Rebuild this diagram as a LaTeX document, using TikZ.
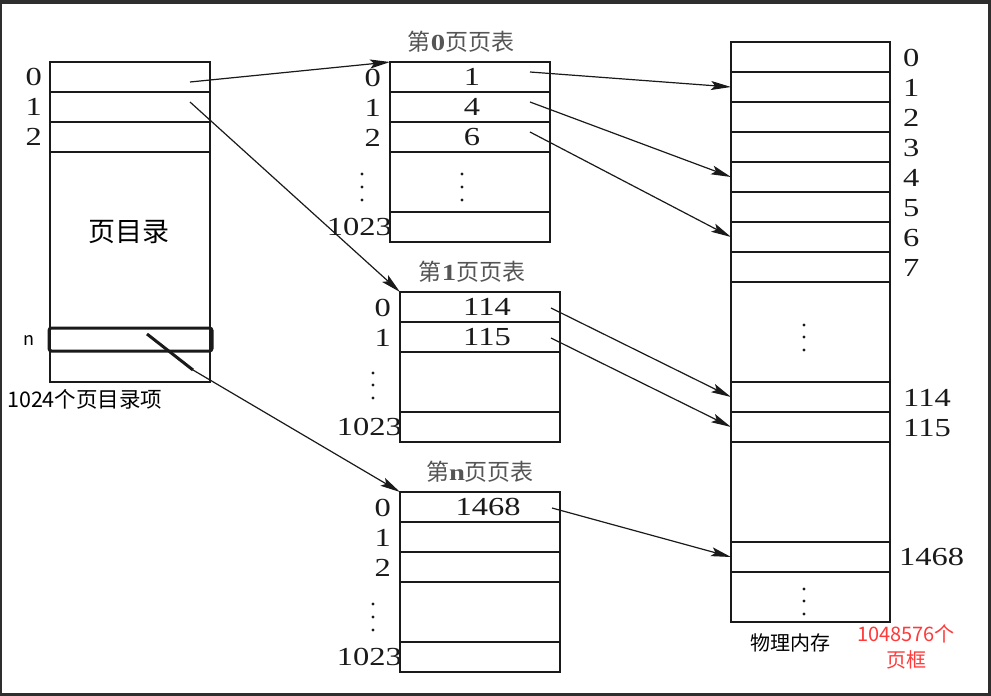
\documentclass[tikz,border=0pt]{standalone}
\usepackage{fontspec}
\setmainfont{Liberation Serif}
\newfontfamily\numfont{Liberation Serif}[FakeStretch=1.25]
\newfontfamily\cjkfont{Noto Sans CJK SC}
\usetikzlibrary{arrows.meta,calc}
\definecolor{framecol}{HTML}{2E2E2E}
\definecolor{ink}{HTML}{1A1A1A}
\definecolor{titlegray}{HTML}{555555}
\definecolor{redtxt}{HTML}{FF3A3A}
\begin{document}
\begin{tikzpicture}[x=1pt,y=-1pt,
 cell/.style={draw=ink,line width=2pt,minimum width=160pt,inner sep=0pt,outer sep=0pt},
 num/.style={font=\numfont\fontsize{26}{28}\selectfont,text=ink,inner sep=0pt},
 idx/.style={num,anchor=east},
 idxw/.style={num,anchor=west},
 ttl/.style={font=\cjkfont\fontsize{23}{26}\selectfont,text=titlegray,inner sep=0pt},
 cn/.style={font=\cjkfont\fontsize{20}{26}\selectfont,inner sep=0pt,text=black},
 arr/.style={draw=ink,line width=1.2pt,-{Stealth[length=20pt,width=9pt,inset=4pt]}},
 dot/.style={fill=ink}]
\useasboundingbox (0,0) rectangle (991,696);
\fill[framecol] (0,0) rectangle (991,696);
\fill[white] (2,4) rectangle (988,693);

% ---------- page directory ----------
\node[cell,minimum height=30pt] (d0) at (130,77) {};
\node[cell,minimum height=30pt] (d1) at (130,107) {};
\node[cell,minimum height=30pt] (d2) at (130,137) {};
\node[cell,minimum height=230pt] (drest) at (130,267) {};
\node[draw=ink,line width=3pt,rounded corners=2.5pt,minimum width=163pt,minimum height=23pt,inner sep=0pt] (dn) at (130.5,339.5) {};
\node[idx] (dl0) at (42,77) {0};
\node[idx] (dl1) at (42,107) {1};
\node[idx] (dl2) at (42,137) {2};
\node[cn,font=\cjkfont\fontsize{27}{30}\selectfont] (dirt) at (129,232) {页目录};
\node[cn,font=\cjkfont\fontsize{18}{20}\selectfont] (nlab) at (29,340) {n};
\node[cn,anchor=west,font=\cjkfont\fontsize{21.5}{26}\selectfont] (dircap) at (7,399) {1024个页目录项};

% ---------- page table 0 ----------
\node[ttl] (t0t) at (461,42) {第{\numfont\bfseries 0}页页表};
\node[cell,minimum height=30pt] (t00) at (470,77) {};
\node[cell,minimum height=30pt] (t01) at (470,107) {};
\node[cell,minimum height=30pt] (t02) at (470,137) {};
\node[cell,minimum height=60pt] (t0m) at (470,182) {};
\node[cell,minimum height=30pt] (t0l) at (470,227) {};
\node[idx] (t0i0) at (381,78) {0};
\node[idx] (t0i1) at (381,108) {1};
\node[idx] (t0i2) at (381,138) {2};
\node[idx] (t0i3) at (392,227) {1023};
\node[num] (t0v0) at (472,77) {1};
\node[num] (t0v1) at (472,107) {4};
\node[num] (t0v2) at (472,137) {6};
\foreach \yy in {174,187,200}{
  \fill[dot] (362,\yy) circle (1.7);
  \fill[dot] (462,\yy) circle (1.7);
}

% ---------- page table 1 ----------
\node[ttl] (t1t) at (472,272) {第{\numfont\bfseries 1}页页表};
\node[cell,minimum height=30pt] (t10) at (480,307) {};
\node[cell,minimum height=30pt] (t11) at (480,337) {};
\node[cell,minimum height=60pt] (t1m) at (480,382) {};
\node[cell,minimum height=30pt] (t1l) at (480,427) {};
\node[idx] (t1i0) at (391,308) {0};
\node[idx] (t1i1) at (391,338) {1};
\node[idx] (t1i3) at (402,427) {1023};
\node[num] (t1v0) at (487,307) {114};
\node[num] (t1v1) at (487,337) {115};
\foreach \yy in {373,385,398}{\fill[dot] (373,\yy) circle (1.7);}

% ---------- page table n ----------
\node[ttl] (tnt) at (480,472) {第{\numfont\bfseries n}页页表};
\node[cell,minimum height=30pt] (tn0) at (480,507) {};
\node[cell,minimum height=30pt] (tn1) at (480,537) {};
\node[cell,minimum height=30pt] (tn2) at (480,567) {};
\node[cell,minimum height=60pt] (tnm) at (480,612) {};
\node[cell,minimum height=30pt] (tnl) at (480,657) {};
\node[idx] (tni0) at (391,508) {0};
\node[idx] (tni1) at (391,538) {1};
\node[idx] (tni2) at (391,568) {2};
\node[idx] (tni3) at (402,657) {1023};
\node[num] (tnv0) at (488,507) {1468};
\foreach \yy in {604,617,630}{\fill[dot] (373,\yy) circle (1.7);}

% ---------- physical memory ----------
\foreach \k in {0,...,7}{
  \node[cell,minimum width=159pt,minimum height=30pt] (m\k) at (810.5,57+30*\k) {};
  \node[idxw] (ml\k) at (903,58+30*\k) {\k};
}
\node[cell,minimum width=159pt,minimum height=100pt] (mA) at (810.5,332) {};
\node[cell,minimum width=159pt,minimum height=30pt] (m114) at (810.5,397) {};
\node[cell,minimum width=159pt,minimum height=30pt] (m115) at (810.5,427) {};
\node[cell,minimum width=159pt,minimum height=100pt] (mB) at (810.5,492) {};
\node[cell,minimum width=159pt,minimum height=30pt] (m1468) at (810.5,557) {};
\node[cell,minimum width=159pt,minimum height=50pt] (mC) at (810.5,597) {};
\node[idxw] (ml114) at (903,398) {114};
\node[idxw] (ml115) at (903,428) {115};
\node[idxw] (ml1468) at (899,557) {1468};
\foreach \yy in {325,337,350,589,601,614}{\fill[dot] (804,\yy) circle (1.7);}
\node[cn] (memcap) at (790,643) {物理内存};
\node[cn,text=redtxt,align=center] (redcap) at (906,647) {1048576个\\页框};

% ---------- connectors ----------
\coordinate (s0) at (190,82);
\coordinate (s1) at (190,102);
\coordinate (sn) at (147,334);
\coordinate (snm) at (193,370);
\draw[arr] (s0) -- (t00.north west);
\draw[arr] (s1) -- (t10.north west);
\draw[ink,line width=3pt] (sn) -- (snm);
\draw[arr] (snm) -- (tn0.north west);

\coordinate (a0) at (530,72);
\coordinate (a1) at (530,102);
\coordinate (a2) at (530,132);
\coordinate (b0) at (551,308);
\coordinate (b1) at (551,338);
\coordinate (c0) at (552,508);
\draw[arr] (a0) -- (m1.west);
\draw[arr] (a1) -- (m4.west);
\draw[arr] (a2) -- (m6.west);
\draw[arr] (b0) -- (m114.west);
\draw[arr] (b1) -- (m115.west);
\draw[arr] (c0) -- (m1468.west);
\end{tikzpicture}
\end{document}
